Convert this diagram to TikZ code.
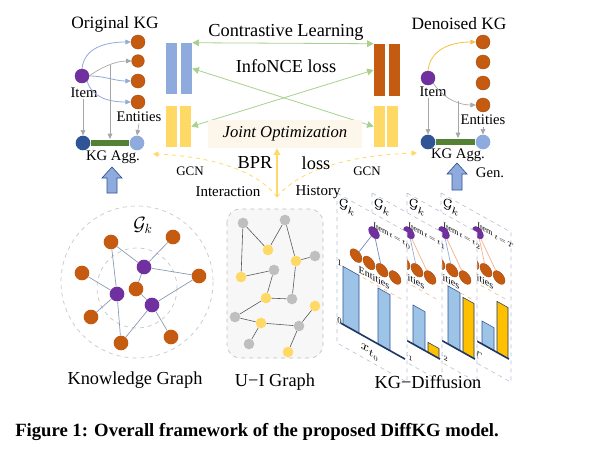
\documentclass[tikz,border=0pt]{standalone}
\usepackage{fontspec}
\setmainfont{Liberation Serif}
\usetikzlibrary{arrows.meta,calc}
\definecolor{cOr}{HTML}{C55A11}
\definecolor{cPu}{HTML}{7030A0}
\definecolor{cDB}{HTML}{2F5597}
\definecolor{cLB}{HTML}{8FAADC}
\definecolor{cGr}{HTML}{548235}
\definecolor{cYe}{HTML}{FFD966}
\definecolor{cYA}{HTML}{F5C342}
\definecolor{cGA}{HTML}{A9D18E}
\definecolor{cGy}{HTML}{A6A6A6}
\definecolor{cBeige}{HTML}{FDF6EA}
\definecolor{cEdge}{HTML}{8497B0}
\definecolor{cUIg}{HTML}{BFBFBF}
\definecolor{cBarB}{HTML}{9DC3E6}
\definecolor{cBarY}{HTML}{FFC000}
\definecolor{cNavy}{HTML}{203864}
\definecolor{cOrL}{HTML}{F4B183}
\definecolor{cPB}{HTML}{B4C0D4}
\newcommand{\fsz}[1]{\fontsize{#1}{#1}\selectfont}
\newcommand{\dpanel}[6]{%
\begin{scope}[shift={(#1,193)}, yslant=-0.56]
  \fill[white] (0,0) rectangle (70,150);
  \draw[pbord] (0,0) rectangle (70,150);
  \node[transform shape, font=\fsz{11pt}, inner sep=0] (#2g) at (10,8) {$\mathcal{G}_k$};
  \node[itm, transform shape, minimum size=8pt] (#2i) at (37,19) {};
  \node[transform shape, font=\fsz{6.3pt}, inner sep=0] (#2it) at (44,11.5) {Item};
  \node[transform shape, font=\fsz{5.3pt}, inner sep=0] (#2t) at (63,13) {#3};
  \foreach \k/\u in {1/19,2/32,3/45,4/58}
    \node[ent, transform shape, minimum size=9pt] (#2e\k) at (\u,52) {};
  \node[transform shape, font=\fsz{7.5pt}, inner sep=0] (#2et) at (37,64) {Entities};
  \draw[cOrL, dashed, line width=0.4pt] (5,70) -- (68,70);
  \node[transform shape, font=\fsz{6.5pt}, inner sep=0] (#2one) at (2.5,68) {1};
  \node[transform shape, font=\fsz{6.5pt}, inner sep=0] (#2zero) at (2.5,126) {0};
  \draw[fill=cBarB, draw=cDB, line width=0.4pt] (6,128) rectangle (22,70);
  \draw[fill=cBarB, draw=cDB, line width=0.4pt] (41,128) rectangle (53,#5);
  \ifnum#6<128 \draw[fill=cBarY, draw=cNavy, line width=0.4pt] (56,128) rectangle (67,#6);\fi
  \draw[cNavy, line width=1.2pt] (4,128) -- (68,128);
  \node[transform shape, font=\fsz{11pt}, inner sep=0] (#2x) at (33,141) {#4};
\end{scope}}
\begin{document}
\begin{tikzpicture}[x=0.75pt,y=-0.75pt,
  ent/.style={circle, fill=cOr, draw=cOr!85!black, line width=0.3pt, inner sep=0pt, minimum size=10.5pt},
  itm/.style={circle, fill=cPu, draw=cPu!85!black, line width=0.3pt, inner sep=0pt, minimum size=10.5pt},
  agl/.style={circle, fill=cDB, inner sep=0pt, minimum size=11pt},
  agr/.style={circle, fill=cLB, inner sep=0pt, minimum size=11pt},
  lbl/.style={font=\fsz{11pt}, inner sep=1pt},
  sml/.style={font=\fsz{9.75pt}, inner sep=1pt},
  mid/.style={font=\fsz{11.25pt}, inner sep=1pt},
  ttl/.style={font=\fsz{13pt}, inner sep=1pt},
  big/.style={font=\fsz{13.75pt}, inner sep=1pt},
  bar/.style={rectangle, inner sep=0pt, minimum width=8.25pt},
  garr/.style={draw=cGy, line width=0.5pt, -{Triangle[length=4pt,width=3.5pt]}},
  barr/.style={draw=cLB, line width=0.6pt, -{Triangle[length=4pt,width=3.5pt]}},
  yarr/.style={draw=cYA, line width=0.6pt, -{Triangle[length=4pt,width=3.5pt]}},
  carr/.style={draw=cGA, line width=0.6pt, {Triangle[length=5pt,width=5pt]}-{Triangle[length=5pt,width=5pt]}},
  pbord/.style={draw=cPB, dashed, line width=0.45pt},
  kgo/.style={circle, fill=cOr, inner sep=0pt, minimum size=11pt},
  kgp/.style={circle, fill=cPu, inner sep=0pt, minimum size=11pt},
  kge/.style={draw=cEdge, line width=0.5pt},
  uig/.style={circle, fill=cUIg, inner sep=0pt, minimum size=8pt},
  uiy/.style={circle, fill=cYe, inner sep=0pt, minimum size=8pt},
  uie/.style={draw=gray!70!black, line width=0.45pt}]
\useasboundingbox[fill=white] (0,0) rectangle (589,454);

% ---------- left panel: Original KG ----------
\node[ttl] (otitle) at (115,24) {Original KG};
\node[itm] (Li) at (82,76) {};
\node[ent] (Le1) at (138,42) {};
\node[ent, minimum size=9.5pt] (Le2) at (138,61) {};
\node[ent] (Le3) at (138,81) {};
\node[ent] (Le4) at (138,102) {};
\node[lbl] (LiT) at (84,93) {Item};
\node[lbl] (LeT) at (139,117) {Entities};
\node[agl] (La) at (83,143) {};
\node[agr] (Lb) at (137,143) {};
\draw[cGr, line width=4.5pt] (La.east) -- (Lb.west);
\node[lbl] (LaggT) at (113,157) {KG Agg.};
\draw[barr] (Li.north) .. controls (84,48) and (105,42) .. (Le1.west);
\draw[garr] (Li.east) .. controls (100,68) and (115,61) .. (Le2.west);
\draw[barr] (Li.east) .. controls (105,76) and (115,81) .. (Le3.west);
\draw[barr] (Li.south east) .. controls (92,98) and (110,102) .. (Le4.west);
\coordinate (Lm) at (110,65);
\coordinate (Lmb) at (110,139);
\draw[garr] (LiT.south -| La.north) -- (La.north);
\draw[garr] (Lm) -- (Lmb);
\draw[garr] (LeT.south) -- (Lb.north);
\filldraw[fill=cLB, draw=cDB, line width=0.5pt] (102,178) -- (112,167) -- (122,178) -- (117,178) -- (117,193) -- (107,193) -- (107,178) -- cycle;

% ---------- embedding bars ----------
\node[bar, fill=cLB, minimum height=38.25pt] (lb1) at (171.5,68.5) {};
\node[bar, fill=cLB, minimum height=38.25pt] (lb2) at (186.5,68.5) {};
\node[bar, fill=cYe, minimum height=30.75pt] (ly1) at (171.5,126.5) {};
\node[bar, fill=cYe, minimum height=30.75pt] (ly2) at (185.5,126.5) {};
\node[bar, fill=cOr, minimum height=39pt] (ro1) at (379.5,70) {};
\node[bar, fill=cOr, minimum height=39pt] (ro2) at (394.5,70) {};
\node[bar, fill=cYe, minimum height=30.75pt] (ry1) at (379.5,126.5) {};
\node[bar, fill=cYe, minimum height=30.75pt] (ry2) at (392.5,126.5) {};

\node[ttl, font=\fsz{13.75pt}] (clT) at (286,32) {Contrastive Learning};
\node[ttl, font=\fsz{13.75pt}] (infT) at (286,66) {InfoNCE loss};
\draw[carr] (lb2.north east) -- (ro1.north west);
\draw[carr] (lb2.east) -- (ry1.west);
\draw[carr] (ro1.west) -- (ly2.east);

\node[rectangle, fill=cBeige, minimum width=115.5pt, minimum height=21pt, inner sep=0pt, font=\fsz{12.5pt}\itshape] (jo) at (285,134) {Joint Optimization};
\coordinate (bot) at (277,197);
\coordinate (cl) at (153,154);
\coordinate (cr) at (417,153);
\draw[cYe, line width=1pt, -{Triangle[length=5pt,width=5pt]}] (bot) -- (bot |- jo.south);
\draw[cYe, dashed, line width=0.6pt, -{Triangle[length=4pt,width=4pt]}] (bot) .. controls (255,168) and (205,156) .. (cl);
\draw[cYe, dashed, line width=0.6pt, -{Triangle[length=4pt,width=4pt]}] (bot) .. controls (300,168) and (355,155) .. (cr);
\node[ttl, font=\fsz{13.75pt}] (bprT) at (255,163) {BPR};
\node[ttl, font=\fsz{13.75pt}] (lossT) at (316,163) {loss};
\node[sml] (gcnL) at (190,171) {GCN};
\node[sml] (gcnR) at (367,171) {GCN};

% ---------- right panel: Denoised KG ----------
\node[ttl] (dtitle) at (459,24) {Denoised KG};
\node[itm] (Ri) at (428,78) {};
\node[ent] (Re1) at (483,42) {};
\node[ent] (Re2) at (483,62) {};
\node[ent] (Re3) at (483,83) {};
\node[ent] (Re4) at (483,105) {};
\node[lbl] (RiT) at (433,92) {Item};
\node[lbl] (ReT) at (483,120) {Entities};
\node[agl] (Ra) at (428,142) {};
\node[agr] (Rb) at (483,142) {};
\draw[cGr, line width=4.5pt] (Ra.east) -- (Rb.west);
\node[lbl] (RaggT) at (458,155) {KG Agg.};
\draw[yarr] (Ri.north) .. controls (430,50) and (450,42) .. (Re1.west);
\draw[garr] (Ri.south east) .. controls (445,100) and (460,105) .. (Re4.west);
\coordinate (Rm) at (458,101);
\coordinate (Rmb) at (458,138);
\draw[garr] (RiT.south -| Ra.north) -- (Ra.north);
\draw[garr] (Rm) -- (Rmb);
\draw[garr] (ReT.south) -- (Rb.north);
\filldraw[fill=cLB, draw=cDB, line width=0.5pt] (447,174) -- (457,163) -- (467,174) -- (462,174) -- (462,190) -- (452,190) -- (452,174) -- cycle;
\node[lbl] (genT) at (490,173) {Gen.};

% ---------- Knowledge graph ----------
\draw[gray!45, dashed, line width=0.5pt] (137,282) circle[radius=76];
\draw[gray!45, dashed, line width=0.5pt] (137,288) circle[radius=40];
\node[font=\fsz{14pt}] (gk) at (143,225) {$\mathcal{G}_k$};
\node[kgo] (k1) at (111,242) {};
\node[kgo] (k2) at (173,237) {};
\node[kgo] (k3) at (82,273) {};
\node[kgo] (k4) at (199,276) {};
\node[kgo] (k5) at (136,289) {};
\node[kgo] (k6) at (91,317) {};
\node[kgo] (k7) at (121,343) {};
\node[kgo] (k8) at (171,337) {};
\node[kgp] (p1) at (144,267) {};
\node[kgp] (p2) at (117,294) {};
\node[kgp] (p3) at (152,305) {};
\draw[kge] (p1) -- (k1); \draw[kge] (p1) -- (k2); \draw[kge] (p1) -- (k4); \draw[kge] (p1) -- (k5);
\draw[kge] (p2) -- (k1); \draw[kge] (p2) -- (k3); \draw[kge] (p2) -- (k6); \draw[kge] (p2) -- (k7);
\draw[kge] (p3) -- (k4); \draw[kge] (p3) -- (k7); \draw[kge] (p3) -- (k8); \draw[kge] (p3) -- (k5);
\node[big] (kgT) at (135,380) {Knowledge Graph};

% ---------- U-I graph ----------
\draw[gray!50, dashed, fill=gray!6, line width=0.5pt, rounded corners=10pt] (227,209) rectangle (323,358);
\node[uig] (g1) at (243,223) {};
\node[uig] (g2) at (285,220) {};
\node[uig] (g3) at (315,256) {};
\node[uig] (g4) at (274,270) {};
\node[uig] (g5) at (292,299) {};
\node[uig] (g6) at (235,317) {};
\node[uig] (g7) at (299,326) {};
\node[uig] (g8) at (249,344) {};
\node[uiy] (y1) at (268,250) {};
\node[uiy] (y2) at (296,261) {};
\node[uiy] (y3) at (241,277) {};
\node[uiy] (y4) at (266,298) {};
\node[uiy] (y5) at (315,306) {};
\node[uiy] (y6) at (261,323) {};
\node[uiy] (y7) at (288,352) {};
\draw[uie] (g1) -- (y1); \draw[uie] (g1) -- (y3); \draw[uie] (g2) -- (y1); \draw[uie] (g2) -- (y2);
\draw[uie] (y2) -- (g3); \draw[uie] (y3) -- (g4); \draw[uie] (g4) -- (y4); \draw[uie] (y2) -- (g5);
\draw[uie] (y4) -- (g5); \draw[uie] (y4) -- (g6); \draw[uie] (g6) -- (y6); \draw[uie] (y6) -- (g7);
\draw[uie] (y6) -- (g8); \draw[uie] (g7) -- (y5); \draw[uie] (g7) -- (y7);
\node[big] (uiT) at (275,382) {U−I Graph};

% ---------- KG diffusion panels ----------
\dpanel{441}{P4}{$t\!=\!T$}{$x_T$}{105}{77}
\draw[cOrL, line width=0.5pt] (P4i) -- (P4e3);
\draw[cOrL, line width=0.5pt] (P4i) -- (P4e4);
\dpanel{407}{P3}{$t\!=\!t_2$}{$x_{t_2}$}{70}{73}
\draw[cLB, line width=0.5pt] (P3i) -- (P3e3);
\draw[cOrL, line width=0.5pt] (P3i) -- (P3e4);
\dpanel{372}{P2}{$t\!=\!t_1$}{$x_{t_1}$}{89}{118}
\draw[cLB, line width=0.5pt] (P2i) -- (P2e3);
\draw[cOrL, line width=0.5pt] (P2i) -- (P2e4);
\dpanel{337}{P1}{$t\!=\!t_0$}{$x_{t_0}$}{72}{128}
\draw[cDB!70, line width=0.5pt] (P1i) -- (P1e1);
\draw[cDB!70, line width=0.5pt] (P1i) -- (P1e3);
\node[big] (kgdT) at (428,382) {KG−Diffusion};

\node[mid] (interT) at (228,192) {Interaction};
\node[mid] (histT) at (318,192) {History};

% ---------- caption ----------
\node[anchor=west, inner sep=0pt, font=\fsz{14pt}\bfseries] (cap) at (15,432) {Figure 1: Overall framework of the proposed DiffKG model.};
\end{tikzpicture}
\end{document}
